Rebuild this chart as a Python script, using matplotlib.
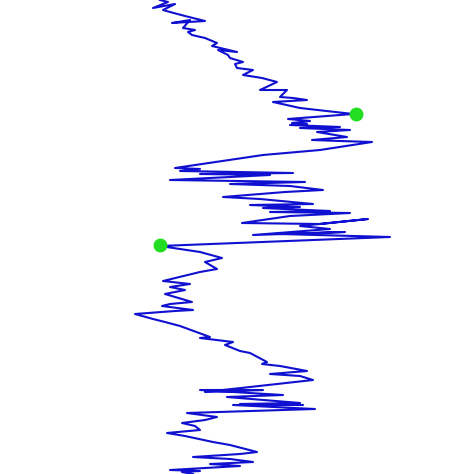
import matplotlib
matplotlib.use('Agg')
import matplotlib.pyplot as plt

# path (pixel units, y grows downward)
path_x = [160, 168, 153, 175, 163, 170, 185, 205, 172, 190, 183, 195, 188, 192, 205, 217, 212, 237, 218, 228,
          230, 243, 235, 237, 253, 243, 262, 277, 260, 287, 280, 293, 307, 273, 300, 353,
          288, 310, 292, 307, 290, 340, 300, 350, 317, 347, 312, 340, 372, 320, 263, 175, 200, 180,
          293, 200, 270, 170, 240, 305, 230, 290, 323, 285, 223, 260, 313, 250, 300, 263, 330, 270,
          350, 290, 242, 320, 368, 300, 330, 253, 345, 280, 390,
          160, 200, 222, 205, 217, 200, 163, 190, 170, 185, 165, 192, 170, 162, 193, 175, 135, 153,
          165, 180, 210, 200, 233, 225, 240, 250, 267, 262, 280, 307, 270, 300, 313,
          205, 263, 200, 283, 227, 300, 240, 303, 233, 315, 187, 217, 205, 182, 195, 200, 167,
          185, 213, 230, 257, 240, 193, 230, 253, 210, 240, 170, 200, 182, 193]
path_y = [0, 2, 8, 4, 10, 12, 16, 21, 23, 20, 28, 30, 32, 35, 38, 43, 46, 52, 50, 55,
          58, 62, 64, 68, 70, 75, 78, 82, 90, 90, 97, 98, 100, 102, 108, 114,
          119, 121, 123, 124, 125, 127, 128, 130, 132, 137, 140, 141, 142, 150, 155, 168, 169, 171,
          173, 174, 175, 180, 181, 182, 184, 186, 190, 192, 197, 199, 204, 205, 207, 208, 211, 212,
          213, 216, 223, 224, 219, 226, 229, 235, 232, 234, 237,
          246, 252, 258, 262, 269, 272, 281, 284, 287, 290, 294, 302, 304, 306, 310, 311, 314, 319,
          322, 326, 337, 338, 342, 345, 351, 353, 362, 364, 366, 371, 374, 376, 380,
          392, 390, 390, 395, 397, 403, 404, 405, 405, 409, 413, 417, 420, 423, 426, 430, 433,
          436, 442, 445, 452, 454, 457, 459, 462, 464, 466, 470, 471, 472, 474]
marker_x = [356, 160]
marker_y = [114, 245]

fig = plt.figure(figsize=(4.74, 4.74), dpi=100)
ax = fig.add_axes([0, 0, 1, 1])
ax.plot(path_x, path_y, color='#1010d0', linewidth=1.5)
ax.plot(marker_x, marker_y, linestyle='', marker='o', color='#22dd22', markersize=9)
ax.set_xlim(0, 474)
ax.set_ylim(474, 0)
ax.axis('off')
fig.savefig('out.png', dpi=100)
